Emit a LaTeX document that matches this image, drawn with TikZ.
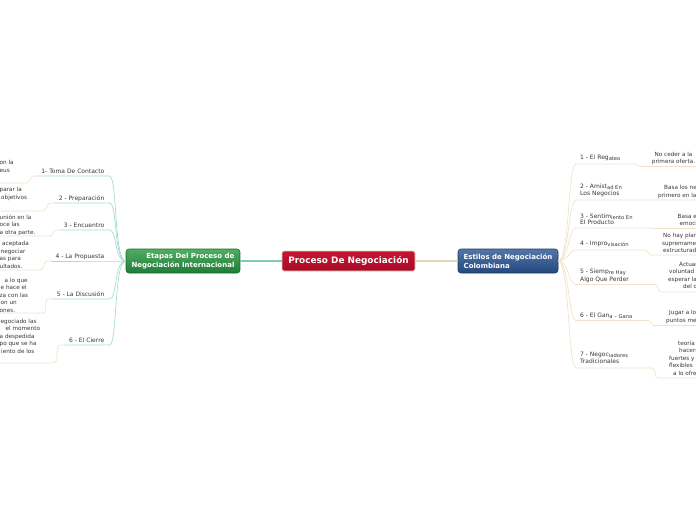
\documentclass[tikz,border=0pt]{standalone}
\usepackage{fontspec}
\setmainfont{DejaVu Sans}
\definecolor{mint}{RGB}{164,220,203}
\definecolor{mintdark}{RGB}{126,202,180}
\definecolor{sand}{RGB}{238,228,204}
\definecolor{sanddark}{RGB}{226,213,180}
\definecolor{txtgray}{RGB}{55,55,55}
\definecolor{redtop}{RGB}{198,22,52}
\definecolor{redbot}{RGB}{166,10,38}
\definecolor{redline}{RGB}{232,210,190}
\definecolor{greentop}{RGB}{82,172,98}
\definecolor{greenbot}{RGB}{30,124,55}
\definecolor{greenline}{RGB}{28,105,48}
\definecolor{bluetop}{RGB}{84,118,166}
\definecolor{bluebot}{RGB}{34,72,126}
\definecolor{blueline}{RGB}{28,58,104}
\newcommand\lowpart[1]{\raisebox{-1.2pt}{\fontsize{5.2}{6}\selectfont #1}}
\newcommand\fl{\rule{0pt}{5pt}}
\begin{document}
\begin{tikzpicture}[x=1pt,y=-1pt,
  rootbox/.style={draw=redline, line width=0.8pt, rounded corners=2pt, top color=redtop, bottom color=redbot,
    text=white, font=\fontsize{8.9}{10}\bfseries\selectfont, minimum width=133pt, minimum height=20pt, inner sep=0pt},
  mainbox/.style={rounded corners=3pt, line width=0.6pt, text=white, font=\fontsize{7}{8.7}\bfseries\selectfont,
    minimum height=24pt, inner sep=0pt},
  lblL/.style={inner sep=0pt, font=\fontsize{6}{7}\selectfont, text=txtgray, anchor=base east},
  lblR/.style={inner sep=0pt, font=\fontsize{6}{6.8}\selectfont, text=txtgray, anchor=north west, align=left},
  descbox/.style={inner sep=0pt, font=\fontsize{5.7}{7.5}\selectfont, text=txtgray, anchor=north west, align=left},
  linkM/.style={draw=mint, line width=0.7pt},
  linkS/.style={draw=sand, line width=0.7pt},
]
\useasboundingbox (0,0) rectangle (696,520);

% main nodes
\node[rootbox] (root) at (348.5,261) {Proceso De Negociación};
\node[mainbox, draw=greenline, top color=greentop, bottom color=greenbot, minimum width=114pt, align=right]
  (etapas) at (183,261) {Etapas Del Proceso de\\Negociación Internacional};
\node[mainbox, draw=blueline, top color=bluetop, bottom color=bluebot, minimum width=100pt, align=left]
  (estilos) at (508,261) {Estilos de Negociación\\Colombiana};

\draw[draw=mintdark, line width=1.2pt] (root.west) -- (etapas.east);
\draw[draw=sanddark, line width=1.2pt] (root.east) -- (estilos.west);

% ---------------- left side ----------------
\node[lblL] (l1) at (104.5,173) {1- Toma De Contacto};
\node[lblL] (l2) at (104.5,200) {2 - Preparación};
\node[lblL] (l3) at (104.5,227) {3 - Encuentro};
\node[lblL] (l4) at (104.5,258) {4 - La Propuesta};
\node[lblL] (l5) at (104.5,296) {5 - La Discusión};
\node[lblL] (l6) at (104.5,342) {6 - El Cierre};

\node[descbox] (a1) at (-0.5,159.3) {\fl on la\\eus};
\node[descbox] (a2) at (-0.5,186.3) {\fl parar la\\\hspace*{1.5pt}objetivos};
\node[descbox] (a3) at (-0.5,213.8) {\fl unión en la\\oce las\\a otra parte.};
\node[descbox] (a4) at (-0.5,240.3) {\fl\hspace*{2.5pt}aceptada\\\hspace*{1pt}negociar\\as para\\ultados.};
\node[descbox] (a5) at (-0.5,276.8) {\fl\hspace*{5pt}a lo que\\\hspace*{1pt}e hace el\\za con las\\\hspace*{1pt}on un\\ones.};
\node[descbox] (a6) at (-0.5,317.8) {\fl\hspace*{1pt}egociado las\\\hspace*{6pt}el momento\\a despedida\\po que se ha\\\hspace*{1.5pt}iento de los};

\foreach \i/\xc/\yb in {1/27/183, 2/43/211, 3/50/236, 4/40/270, 5/43/313, 6/53/363}{
  \coordinate (a\i c) at (\xc,\yb);
  \coordinate (a\i e) at (-2,\yb);
}
\foreach \i in {1,...,6}{
  \draw[linkM] (etapas.west) .. controls +(-12,0) and +(8,0) .. ([xshift=5pt,yshift=-3pt]l\i.base east)
     -- ([xshift=-4pt,yshift=-3pt]l\i.base west);
  \draw[linkS] ([xshift=-4pt,yshift=-3pt]l\i.base west) -- ++(-4,0) to[out=180,in=0] (a\i c) -- (a\i e);
}

% ---------------- right side ----------------
\node[lblR] (r1) at (580,153.8) {\fl 1 - El Reg\lowpart{ateo}};
\node[lblR] (r2) at (580,183.3) {\fl 2 - Amist\lowpart{ad En}\\Los Negocios};
\node[lblR] (r3) at (580,212.8) {\fl 3 - Sentim\lowpart{iento En}\\El Producto};
\node[lblR] (r4) at (580,239.8) {\fl 4 - Impro\lowpart{visación}};
\node[lblR] (r5) at (580,268.3) {\fl 5 - Siemp\lowpart{re Hay}\\Algo Que Perder};
\node[lblR] (r6) at (580,311.8) {\fl 6 - El Gan\lowpart{a – Gana}};
\node[lblR] (r7) at (580,351.3) {\fl 7 - Negoc\lowpart{iadores}\\Tradicionales};

\node[descbox, anchor=north, align=center] (b1) at (673.5,150.8) {\fl No ceder a la\\primera oferta.};
\node[descbox] (b2) at (658,184.3) {\fl\hspace*{6pt}Basa los negocios\\primero en la amistad};
\node[descbox] (b3) at (677.5,212.8) {\fl Basa en las\\\hspace*{2pt}emociones};
\node[descbox] (b4) at (662,232.3) {\fl\hspace*{1pt}No hay planes\\supremamente\\\hspace*{1pt}estructurados};
\node[descbox] (b5) at (668,260.8) {\fl\hspace*{11pt}Actuan con\\\hspace*{1pt}voluntad de\\esperar la\\\hspace*{15pt}del otro};
\node[descbox] (b6) at (666,309.3) {\fl\hspace*{3pt}Jugar a los\\puntos medios};
\node[descbox] (b7) at (669,339.8) {\fl\hspace*{9pt}teoría\\\hspace*{10pt}hacerse\\fuertes y\\flexibles\\\hspace*{4pt}a lo ofrecido};

\foreach \i/\yu/\xs/\yb in {1/164/634/166.5, 2/200/640/200, 3/228/650/228.5, 4/250/645/255, 5/284.5/655/292, 6/320.5/648/325.5, 7/368/652/378}{
  \coordinate (ru\i) at (576,\yu);
  \coordinate (rs\i) at (\xs,\yu);
  \coordinate (rb\i) at (\xs+6,\yb);
  \coordinate (re\i) at (700,\yb);
}
\foreach \i in {1,...,7}{
  \draw[linkS] (estilos.east) .. controls +(11,0) and +(-8,0) .. (ru\i) -- (rs\i) to[out=0,in=180] (rb\i) -- (re\i);
}
\end{tikzpicture}
\end{document}
